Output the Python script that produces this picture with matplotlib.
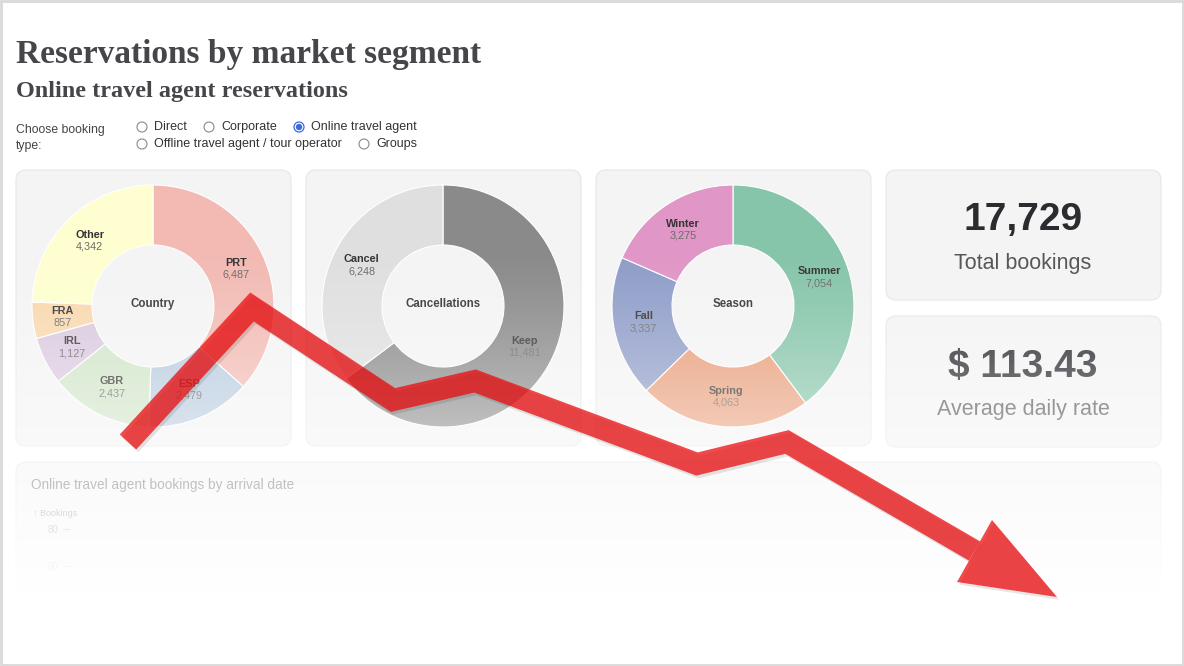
import numpy as np
import matplotlib
matplotlib.use("Agg")
import matplotlib.pyplot as plt
from matplotlib.patches import FancyBboxPatch, Circle, Polygon, Rectangle
import matplotlib.patheffects as pe

# -------------------------
# DATA
# -------------------------
country_labels = ["PRT", "ESP", "GBR", "IRL", "FRA", "Other"]
country_values = [6487, 2479, 2437, 1127, 857, 4342]
cancel_labels = ["Keep", "Cancel"]
cancel_values = [11481, 6248]
season_labels = ["Summer", "Spring", "Fall", "Winter"]
season_values = [7054, 4063, 3337, 3275]
total_bookings = 17729
avg_daily_rate = 113.43
booking_types = ["Direct", "Corporate", "Online travel agent",
                 "Offline travel agent / tour operator", "Groups"]
selected_type = "Online travel agent"
bookings_ticks = [60, 80]

# colours
country_colors = ["#f2bab3", "#b8cbdf", "#d0e5c8", "#dac9e0", "#f9d8ae", "#fefed0"]
cancel_colors = ["#8a8a8a", "#dfdfdf"]
season_colors = ["#86c5a9", "#e99e7a", "#8f9dc8", "#e096c6"]

SANS = ["Liberation Sans", "DejaVu Sans"]
SERIF = ["Liberation Serif", "DejaVu Serif"]
W, H = 1184, 666

fig = plt.figure(figsize=(W / 100, H / 100), dpi=100)
fig.patch.set_facecolor("white")

# background axes in pixel coordinates
bg = fig.add_axes([0, 0, 1, 1])
bg.set_xlim(0, W)
bg.set_ylim(H, 0)
bg.axis("off")


def card(ax, x, y, w, h):
    ax.add_patch(FancyBboxPatch((x, y), w, h,
                                boxstyle="round,pad=0,rounding_size=10",
                                fc="#f4f4f4", ec="#e6e6e6", lw=0.8))


# titles
bg.text(16, 63, "Reservations by market segment", family=SERIF, weight="bold",
        fontsize=24, color="#45454a", va="baseline")
bg.text(16, 97, "Online travel agent reservations", family=SERIF, weight="bold",
        fontsize=17.5, color="#45454a", va="baseline")

# radio buttons
bg.text(16, 130, "Choose booking", family=SANS, fontsize=8.8, color="#444", va="center")
bg.text(16, 146, "type:", family=SANS, fontsize=8.8, color="#444", va="center")
radio_pos = [(142, 127), (209, 127), (299, 127), (142, 144), (364, 144)]
for name, (rx, ry) in zip(booking_types, radio_pos):
    if name == selected_type:
        bg.add_patch(Circle((rx, ry), 5, fc="white", ec="#3d6bd6", lw=0.9))
        bg.add_patch(Circle((rx, ry), 3.2, fc="#3d6bd6", ec="none"))
    else:
        bg.add_patch(Circle((rx, ry), 5, fc="white", ec="#8a8a8a", lw=0.8))
    bg.text(rx + 12, ry, name, family=SANS, fontsize=9, color="#333", va="center")

# cards
card(bg, 16, 170, 275, 276)
card(bg, 306, 170, 275, 276)
card(bg, 596, 170, 275, 276)
card(bg, 886, 170, 275, 130)
card(bg, 886, 316, 275, 131)
card(bg, 16, 462, 1145, 190)

# KPI cards
bg.text(1023, 220, f"{total_bookings:,}", family=SANS, weight="bold", fontsize=28,
        color="#2b2b30", ha="center", va="center")
bg.text(1023, 263, "Total bookings", family=SANS, fontsize=15.5,
        color="#555", ha="center", va="center")
bg.text(1023, 367, f"$ {avg_daily_rate:.2f}", family=SANS, weight="bold", fontsize=28,
        color="#2b2b30", ha="center", va="center")
bg.text(1023, 409, "Average daily rate", family=SANS, fontsize=15.5,
        color="#555", ha="center", va="center")

# bottom chart header
bg.text(31, 485, "Online travel agent bookings by arrival date", family=SANS,
        fontsize=9.8, color="#555", va="center")
bg.text(33, 513, "↑ Bookings", family=SANS, fontsize=6.5, color="#777", va="center")

# -------------------------
# DONUTS
# -------------------------
R, r = 121, 61


def donut(cx, cy, values, labels, colors, title):
    ax = fig.add_axes([(cx - R) / W, 1 - (cy + R) / H, 2 * R / W, 2 * R / H])
    ax.patch.set_visible(False)
    wedges, _ = ax.pie(values, colors=colors, startangle=90, counterclock=False,
                       radius=1, wedgeprops=dict(width=(R - r) / R, edgecolor="white",
                                                 linewidth=0.8))
    ax.set_xlim(-1, 1)
    ax.set_ylim(-1, 1)
    ax.axis("off")
    rm = (1 + r / R) / 2
    for w, lab, val in zip(wedges, labels, values):
        ang = np.deg2rad((w.theta1 + w.theta2) / 2)
        x, y = rm * np.cos(ang), rm * np.sin(ang)
        ax.text(x, y + 0.05, lab, family=SANS, weight="bold", fontsize=7.8,
                color="#333", ha="center", va="center")
        ax.text(x, y - 0.05, f"{val:,}", family=SANS, fontsize=7.8,
                color="#6b6b6b", ha="center", va="center")
    ax.text(0, 0.02, title, family=SANS, weight="bold", fontsize=8.3,
            color="#333", ha="center", va="center")


donut(153, 306, country_values, country_labels, country_colors, "Country")
donut(443, 306, cancel_values, cancel_labels, cancel_colors, "Cancellations")
donut(733, 306, season_values, season_labels, season_colors, "Season")

# bottom line chart axis (values faded out)
top_px, bot_px = 520, 640
per_px = (bookings_ticks[1] - bookings_ticks[0]) / 37.0
ax_line = fig.add_axes([70 / W, 1 - bot_px / H, 1080 / W, (bot_px - top_px) / H])
ax_line.patch.set_visible(False)
ax_line.set_ylim(bookings_ticks[0] - (bot_px - 566) * per_px,
                 bookings_ticks[1] + (529 - top_px) * per_px)
ax_line.set_yticks(bookings_ticks)
ax_line.set_xticks([])
ax_line.tick_params(axis="y", length=5, color="#aaa", labelsize=7, labelcolor="#888")
for s in ax_line.spines.values():
    s.set_visible(False)
for t in ax_line.get_yticklabels():
    t.set_family(SANS)

# -------------------------
# FADE + ARROW OVERLAY
# -------------------------
ov = fig.add_axes([0, 0, 1, 1])
ov.set_xlim(0, W)
ov.set_ylim(H, 0)
ov.axis("off")
ov.patch.set_visible(False)

yy = np.arange(H)
alpha = np.clip((yy - 250) / 340.0, 0, 1) ** 1.2
fade = np.ones((H, 1, 4))
fade[:, 0, 3] = alpha
ov.imshow(fade, extent=[0, W, H, 0], aspect="auto", interpolation="bilinear", zorder=1)

# red arrow (overlay annotation, pixel positions)
arrow_path = [(128, 442), (252, 307), (393, 400), (475, 381), (697, 464),
              (787, 442), (974.5, 551)]
arrow_head = [(992, 520), (957, 582), (1057, 597)]
red = (0.92, 0.03, 0.04)
xs, ys = zip(*arrow_path)
ov.plot(xs, ys, color=red, alpha=0.73, lw=16, solid_joinstyle="miter",
        solid_capstyle="butt", zorder=3,
        path_effects=[pe.SimpleLineShadow(offset=(1.5, -2), alpha=0.1), pe.Normal()])
ov.add_patch(Polygon(arrow_head, closed=True, fc=red, ec="none", alpha=0.73, zorder=3,
                     path_effects=[pe.SimplePatchShadow(offset=(1.5, -2), alpha=0.1),
                                   pe.Normal()]))

# outer frame
ov.add_patch(Rectangle((1, 1), W - 2.5, H - 2.5, fc="none", ec="#d9d9d9", lw=2, zorder=4))

fig.savefig("out.png", dpi=100)
